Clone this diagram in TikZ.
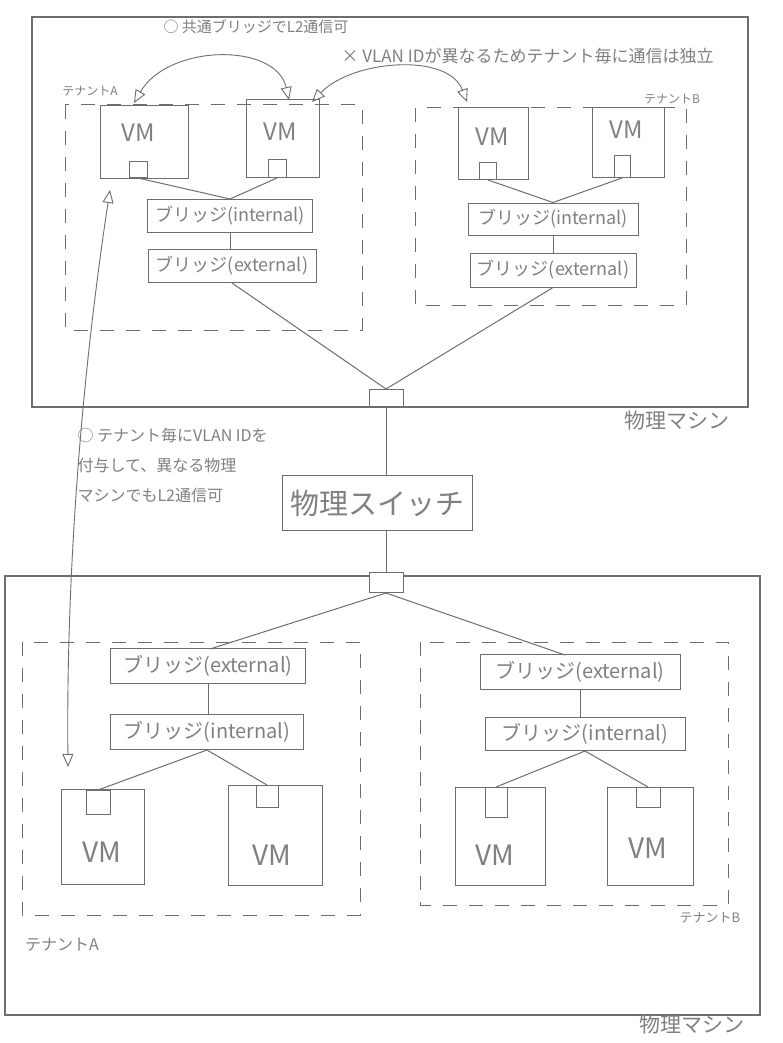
\documentclass[tikz,border=0pt]{standalone}
\usepackage{fontspec}
\setmainfont{Noto Sans CJK JP}
\usetikzlibrary{arrows.meta}
\definecolor{pencil}{HTML}{6E6E6E}
\definecolor{pentext}{HTML}{808080}
\tikzset{
  machine/.style={draw=pencil, line width=1.1pt},
  tenant/.style={draw=pencil, line width=1pt, dash pattern=on 14pt off 12pt},
  bridge/.style={draw=pencil, line width=1pt, inner sep=0pt, text=pentext, font=\fontsize{18}{18}\selectfont},
  portbox/.style={draw=pencil, line width=1pt, fill=white, inner sep=0pt},
  vmtext/.style={text=pentext, font=\fontsize{24}{24}\selectfont},
  wire/.style={draw=pencil, line width=1pt},
  note/.style={text=pentext, font=\fontsize{15}{15}\selectfont},
  commarrow/.style={draw=pencil, line width=0.9pt, {Triangle[open,length=13pt,width=11pt]}-{Triangle[open,length=13pt,width=11pt]}},
}
\begin{document}
\begin{tikzpicture}[x=1pt,y=-1pt]
\useasboundingbox (0,0) rectangle (783,1043);
\fill[white] (0,0) rectangle (783,1043);

% ===== top physical machine =====
\draw[machine] (32,17) rectangle (748,407);
\node[note, font=\fontsize{21}{21}\selectfont] (pmTop) at (677,421) {物理マシン};
\draw[tenant] (65,105) rectangle (362,330);
\draw[tenant] (415,108) rectangle (686,305);
\node[note, font=\fontsize{12}{12}\selectfont] (tAtop) at (90,91) {テナントA};
\node[note, font=\fontsize{12}{12}\selectfont] (tBtop) at (672,99) {テナントB};

% VMs top
\node[draw=pencil, line width=1pt, minimum width=88pt, minimum height=73pt, inner sep=0pt] (vA1) at (144,142) {};
\node[draw=pencil, line width=1pt, minimum width=73pt, minimum height=78pt, inner sep=0pt] (vA2) at (283,139) {};
\node[draw=pencil, line width=1pt, minimum width=70pt, minimum height=72pt, inner sep=0pt] (vB1) at (493,144) {};
\node[draw=pencil, line width=1pt, minimum width=72pt, minimum height=70pt, inner sep=0pt] (vB2) at (628,143) {};
\node[vmtext] (tvA1) at (138,133) {VM};
\node[vmtext] (tvA2) at (280,132) {VM};
\node[vmtext] (tvB1) at (492,137) {VM};
\node[vmtext] (tvB2) at (626,130) {VM};
\node[portbox, minimum width=18pt, minimum height=16pt, anchor=south] (pA1) at (138,178) {};
\node[portbox, minimum width=18pt, minimum height=18pt, anchor=south] (pA2) at (277,178) {};
\node[portbox, minimum width=17pt, minimum height=17pt, anchor=south] (pB1) at (488,180) {};
\node[portbox, minimum width=16pt, minimum height=22pt, anchor=south] (pB2) at (622,178) {};

% bridges top
\node[bridge, minimum width=165pt, minimum height=33pt] (bAi) at (230,216) {ブリッジ(internal)};
\node[bridge, minimum width=168pt, minimum height=33pt] (bAe) at (232,266) {ブリッジ(external)};
\node[bridge, minimum width=170pt, minimum height=32pt] (bBi) at (553,219) {ブリッジ(internal)};
\node[bridge, minimum width=166pt, minimum height=34pt] (bBe) at (553,270) {ブリッジ(external)};
\draw[wire] (pA1.south) -- (bAi.north);
\draw[wire] (pA2.south) -- (bAi.north);
\draw[wire] (pB1.south) -- (bBi.north);
\draw[wire] (pB2.south) -- (bBi.north);
\draw[wire] (bAi.south) -- (bAi.south |- bAe.north);
\draw[wire] (bBi.south) -- (bBi.south |- bBe.north);

% top machine NIC port
\node[portbox, minimum width=34pt, minimum height=17pt, anchor=south] (nicTop) at (386,407) {};
\draw[wire] (bAe.south) -- (nicTop.north);
\draw[wire] (bBe.south) -- (nicTop.north);

% ===== physical switch =====
\node[draw=pencil, line width=1pt, minimum width=190pt, minimum height=55pt, text=pentext, font=\fontsize{29}{29}\selectfont] (sw) at (377,503) {物理スイッチ};

% ===== bottom physical machine =====
\draw[machine] (5,576) rectangle (760,1015);
\node[note, font=\fontsize{21}{21}\selectfont] (pmBot) at (692,1025) {物理マシン};
\node[portbox, minimum width=34pt, minimum height=20pt, anchor=north] (nicBot) at (386,572) {};
\draw[wire] (nicTop.south) -- (nicTop.south |- sw.north);
\draw[wire] (nicBot.north |- sw.south) -- (nicBot.north);

\draw[tenant] (22,642) rectangle (360,915);
\draw[tenant] (420,642) rectangle (728,905);
\node[note, font=\fontsize{16}{16}\selectfont] (tAbot) at (62,945) {テナントA};
\node[note, font=\fontsize{13}{13}\selectfont] (tBbot) at (710,918) {テナントB};

\node[bridge, minimum width=195pt, minimum height=35pt, font=\fontsize{20}{20}\selectfont] (cAe) at (208,666) {ブリッジ(external)};
\node[bridge, minimum width=193pt, minimum height=35pt, font=\fontsize{20}{20}\selectfont] (cAi) at (207,732) {ブリッジ(internal)};
\node[bridge, minimum width=200pt, minimum height=35pt, font=\fontsize{20}{20}\selectfont] (cBe) at (580,672) {ブリッジ(external)};
\node[bridge, minimum width=200pt, minimum height=33pt, font=\fontsize{20}{20}\selectfont] (cBi) at (585,734) {ブリッジ(internal)};
\coordinate (cAeIn) at (210,649);
\coordinate (cBeIn) at (565,655);
\draw[wire] (nicBot.south) -- (cAeIn);
\draw[wire] (nicBot.south) -- (cBeIn);
\draw[wire] (cAe.south) -- (cAe.south |- cAi.north);
\draw[wire] (cBe.south) -- (cBe.south |- cBi.north);

\node[draw=pencil, line width=1pt, minimum width=83pt, minimum height=95pt, inner sep=0pt] (wA1) at (103,837) {};
\node[draw=pencil, line width=1pt, minimum width=94pt, minimum height=100pt, inner sep=0pt] (wA2) at (275,835) {};
\node[draw=pencil, line width=1pt, minimum width=90pt, minimum height=98pt, inner sep=0pt] (wB1) at (500,836) {};
\node[draw=pencil, line width=1pt, minimum width=86pt, minimum height=98pt, inner sep=0pt] (wB2) at (650,836) {};
\node[vmtext, font=\fontsize{28}{28}\selectfont] (twA1) at (102,852) {VM};
\node[vmtext, font=\fontsize{28}{28}\selectfont] (twA2) at (272,855) {VM};
\node[vmtext, font=\fontsize{28}{28}\selectfont] (twB1) at (495,855) {VM};
\node[vmtext, font=\fontsize{28}{28}\selectfont] (twB2) at (648,848) {VM};
\node[portbox, minimum width=24pt, minimum height=24pt, anchor=north] (qA1) at (98,790) {};
\node[portbox, minimum width=22pt, minimum height=22pt, anchor=north] (qA2) at (267,785) {};
\node[portbox, minimum width=22pt, minimum height=30pt, anchor=north] (qB1) at (496,787) {};
\node[portbox, minimum width=24pt, minimum height=20pt, anchor=north] (qB2) at (648,787) {};
\draw[wire] (cAi.south) -- (qA1.north);
\draw[wire] (cAi.south) -- (qA2.north);
\draw[wire] (cBi.south) -- (qB1.north);
\draw[wire] (cBi.south) -- (qB2.north);

% ===== annotations & arrows =====
\node[note, anchor=west] (n1) at (160,27) {○ 共通ブリッジでL2通信可};
\node[note, anchor=west, font=\fontsize{17}{17}\selectfont] (n2) at (338,56) {× VLAN IDが異なるためテナント毎に通信は独立};
\node[note, anchor=north west, align=left, font=\fontsize{16}{30}\selectfont] (n3) at (74,425) {○ テナント毎にVLAN IDを\\付与して、異なる物理\\マシンでもL2通信可};

\coordinate (a1s) at (134,103);
\coordinate (a1e) at (289,100);
\draw[commarrow] (a1s) .. controls (168,44) and (276,42) .. (a1e);
\coordinate (a2s) at (312,102);
\coordinate (a2e) at (467,102);
\draw[commarrow] (a2s) .. controls (352,60) and (448,52) .. (a2e);
\coordinate (a3s) at (110,190);
\coordinate (a3e) at (68,767);
\draw[commarrow] (a3s) .. controls (84,360) and (66,560) .. (a3e);
\end{tikzpicture}
\end{document}
